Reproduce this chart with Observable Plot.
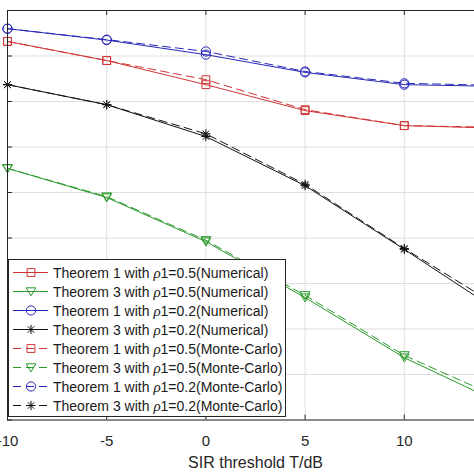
<!DOCTYPE html>
<html><head><meta charset="utf-8">
<script src="https://cdn.jsdelivr.net/npm/d3@7"></script>
<script src="https://cdn.jsdelivr.net/npm/@observablehq/plot@0.6"></script>
<style>
html,body{margin:0;padding:0;background:#fff;}
#wrap{position:relative;width:474px;height:474px;overflow:hidden;background:#fff;}
</style></head><body><div id="wrap"></div>
<script>
// ---- data ----
const sirThreshold = [-10, -5, 0, 5, 10, 15];
const xGridTicks = [-10, -5, 0, 5, 10, 15];
const xTickLabels = [-10, -5, 0, 5, 10];
const yTicks = [0.1, 0.2, 0.3, 0.4, 0.5, 0.6, 0.7, 0.8, 0.9, 1.0];
const xLabel = "SIR threshold T/dB";

const thm1Rho05Num = [0.932, 0.890, 0.837, 0.780, 0.747, 0.741];
const thm3Rho05Num = [0.653, 0.589, 0.492, 0.369, 0.237, 0.134];
const thm1Rho02Num = [0.960, 0.935, 0.903, 0.864, 0.837, 0.833];
const thm3Rho02Num = [0.837, 0.793, 0.723, 0.615, 0.475, 0.332];
const thm1Rho05MC  = [0.932, 0.890, 0.848, 0.782, 0.747, 0.743];
const thm3Rho05MC  = [0.653, 0.591, 0.495, 0.374, 0.242, 0.145];
const thm1Rho02MC  = [0.960, 0.936, 0.910, 0.866, 0.840, 0.835];
const thm3Rho02MC  = [0.837, 0.793, 0.729, 0.618, 0.477, 0.343];

const theorems = ["Theorem 1", "Theorem 3", "Theorem 1", "Theorem 3", "Theorem 1", "Theorem 3", "Theorem 1", "Theorem 3"];
const rhoValues = ["0.5", "0.5", "0.2", "0.2", "0.5", "0.5", "0.2", "0.2"];
const methods = ["Numerical", "Numerical", "Numerical", "Numerical", "Monte-Carlo", "Monte-Carlo", "Monte-Carlo", "Monte-Carlo"];
const seriesValues = [thm1Rho05Num, thm3Rho05Num, thm1Rho02Num, thm3Rho02Num, thm1Rho05MC, thm3Rho05MC, thm1Rho02MC, thm3Rho02MC];

// ---- styles ----
const red = "#d03535", green = "#2a9a2a", blue = "#2828b8", black = "#111111";
const colors = [red, green, blue, black, red, green, blue, black];
const symKeys = ["square", "triDown", "circle", "star", "square", "triDown", "circle", "star"];
const DASH = "8,5";

const sym = {
  square: {draw(c, size) { const r = Math.sqrt(size / Math.PI) * 0.85; c.moveTo(-r, -r); c.lineTo(r, -r); c.lineTo(r, r); c.lineTo(-r, r); c.closePath(); }},
  circle: {draw(c, size) { const r = Math.sqrt(size / Math.PI); c.moveTo(r, 0); c.arc(0, 0, r, 0, 2 * Math.PI); }},
  triDown: {draw(c, size) { const r = Math.sqrt(size / Math.PI); c.moveTo(-r * 1.05, -r * 0.8); c.lineTo(r * 1.05, -r * 0.8); c.lineTo(0, r * 0.95); c.closePath(); }},
  star: {draw(c, size) { const r = Math.sqrt(size / Math.PI); const d = r * 0.7071;
    c.moveTo(-r, 0); c.lineTo(r, 0); c.moveTo(0, -r); c.lineTo(0, r);
    c.moveTo(-d, -d); c.lineTo(d, d); c.moveTo(-d, d); c.lineTo(d, -d); }}
};

const rows = [];
seriesValues.forEach((vals, i) => vals.forEach((v, j) => rows.push({s: i, x: sirThreshold[j], y: v})));

const W = 513, H = 474, mL = 7, mR = 10, mT = 10, mB = 54.5;
const innerW = W - mL - mR, innerH = H - mT - mB;
const axisColor = "#262626", gridColor = "#dedede";

const marks = [
  Plot.gridX(xGridTicks, {stroke: gridColor, strokeOpacity: 1}),
  Plot.gridY(yTicks, {stroke: gridColor, strokeOpacity: 1})
];
seriesValues.forEach((vals, i) => {
  const data = rows.filter(d => d.s === i);
  marks.push(Plot.line(data, {x: "x", y: "y", stroke: colors[i], strokeWidth: 1,
    strokeDasharray: methods[i] === "Monte-Carlo" ? DASH : null}));
});
seriesValues.forEach((vals, i) => {
  const data = rows.filter(d => d.s === i);
  marks.push(Plot.dot(data, {x: "x", y: "y", symbol: sym[symKeys[i]], r: 4.6, stroke: colors[i], fill: "none", strokeWidth: 1}));
});
marks.push(
  Plot.tickX(xGridTicks, {stroke: axisColor, insetTop: innerH - 5}),
  Plot.tickX(xGridTicks, {stroke: axisColor, insetBottom: innerH - 5}),
  Plot.tickY(yTicks, {stroke: axisColor, insetRight: innerW - 5}),
  Plot.axisX(xTickLabels, {tickSize: 0, tickPadding: 15, fontSize: 15, tickFormat: d => String(d), label: null}),
  Plot.axisX([], {tickSize: 0, fontSize: 16, label: xLabel, labelAnchor: "center", labelOffset: 48, labelArrow: "none"}),
  Plot.axisY(yTicks, {tickSize: 0, tickFormat: () => "", label: null}),
  Plot.frame({stroke: axisColor})
);

const chart = Plot.plot({
  width: W, height: H,
  marginLeft: mL, marginRight: mR, marginTop: mT, marginBottom: mB,
  style: {fontFamily: "'Liberation Sans', Arial, sans-serif", fontSize: "15px", color: axisColor, background: "white", maxWidth: "none"},
  x: {domain: [-10, 15]},
  y: {domain: [0.1, 1.0]},
  marks
});
chart.style.position = "absolute";
chart.style.left = "0px";
chart.style.top = "0px";
document.getElementById("wrap").appendChild(chart);

// ---- legend (boxed, inside the plot at lower left) ----
const lg = d3.select("#wrap").append("svg")
  .attr("width", 474).attr("height", 474)
  .style("position", "absolute").style("left", "0px").style("top", "0px");
lg.append("rect").attr("x", 8.5).attr("y", 259.5).attr("width", 277).attr("height", 157)
  .attr("fill", "white").attr("stroke", axisColor);
seriesValues.forEach((vals, i) => {
  const cy = Math.round(271.7 + i * 19.1) + 0.5;
  const g = lg.append("g");
  g.append("line").attr("x1", 13).attr("x2", 48).attr("y1", cy).attr("y2", cy)
    .attr("stroke", colors[i]).attr("stroke-width", 1)
    .attr("stroke-dasharray", methods[i] === "Monte-Carlo" ? DASH : null);
  g.append("path").attr("transform", `translate(31,${cy})`)
    .attr("d", d3.symbol(sym[symKeys[i]], 4.6 * 4.6 * Math.PI)())
    .attr("fill", "none").attr("stroke", colors[i]).attr("stroke-width", 1);
  const t = g.append("text").attr("x", 53).attr("y", cy + 5)
    .attr("font-family", "'Liberation Sans', Arial, sans-serif").attr("font-size", 14).attr("fill", "#1a1a1a");
  t.append("tspan").text(`${theorems[i]} with `);
  t.append("tspan").attr("font-family", "'Liberation Serif', 'Times New Roman', serif").attr("font-style", "italic").attr("font-size", 15).text("ρ");
  t.append("tspan").text(`1=${rhoValues[i]}(${methods[i]})`);
});
</script>
</body></html>
